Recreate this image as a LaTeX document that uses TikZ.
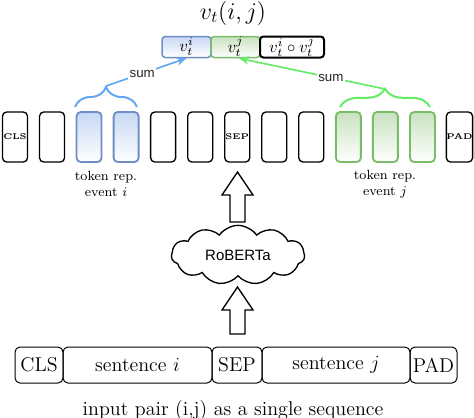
\documentclass[tikz,border=0pt]{standalone}
\usepackage{amsmath,amssymb}
\usepackage{fontspec}
\setsansfont{Liberation Sans}
\usetikzlibrary{shapes.symbols,decorations.pathreplacing,arrows.meta}

\definecolor{repblue}{RGB}{112,142,198}
\definecolor{repbluefill}{RGB}{200,216,244}
\definecolor{repgreen}{RGB}{122,188,104}
\definecolor{repgreenfill}{RGB}{200,226,192}
\definecolor{sumblue}{RGB}{98,168,240}
\definecolor{sumgreen}{RGB}{100,236,100}

\tikzset{
  tok/.style={draw, rounded corners=2.5pt, line width=0.8pt, minimum width=15pt, minimum height=30pt, inner sep=0pt, font=\tiny\bfseries},
  tokblue/.style={tok, draw=repblue, top color=repbluefill, bottom color=white, line width=1.1pt},
  tokgreen/.style={tok, draw=repgreen, top color=repgreenfill, bottom color=white, line width=1.1pt},
  seq/.style={draw, rounded corners=3pt, line width=0.6pt, minimum height=21.6pt, inner sep=0pt, font=\large},
  vec/.style={draw, rounded corners=2pt, minimum height=12.6pt, inner sep=0pt, line width=0.9pt},
  sumbrace/.style={decorate, decoration={brace, amplitude=#1}, line width=1.2pt},
  sumarrow/.style={-{Stealth[length=6pt,width=5pt]}, line width=1pt},
  sumlabel/.style={font=\sffamily\footnotesize, text=black!85, fill=white, inner sep=1pt},
  bigarrow/.style={line width=0.8pt},
}

\begin{document}
\begin{tikzpicture}[x=0.6pt, y=-0.6pt]
\useasboundingbox (0,0) rectangle (474,417);

% output vector
\draw node (title) at (233,13) {\Large $v_t(i,j)$};
\draw node[vec, draw=repblue, top color=repbluefill, bottom color=white, minimum width=29.4pt] (vi) at (186.5,47) {$v_t^i$};
\draw node[vec, draw=repgreen, top color=repgreenfill, bottom color=white, minimum width=29.4pt] (vj) at (235.5,47) {$v_t^j$};
\draw node[vec, line width=1.2pt, minimum width=38.4pt] (vij) at (292,47) {$v_t^i \circ v_t^j$};

% token representations
\foreach \k/\lab/\sty in {0/CLS/tok, 1//tok, 2//tokblue, 3//tokblue, 4//tok, 5//tok, 6/SEP/tok, 7//tok, 8//tok, 9//tokgreen, 10//tokgreen, 11//tokgreen, 12/PAD/tok}
	\node[\sty] (t\k) at (15+37.04*\k,137) {\lab};

\draw node[align=center, font=\footnotesize] (repi) at (106,184) {token\ rep.\\event\ $i$};
\draw node[align=center, font=\footnotesize] (repj) at (385,184) {token\ rep.\\event\ $j$};

% braces and sums
\draw[sumbrace=12pt, sumblue] (75,107) -- (137,107);
\draw[sumbrace=11pt, sumgreen] (340,107) -- (430,107);
\coordinate (bi) at (106,86);
\coordinate (bj) at (385,89);

\draw[sumarrow, sumblue] (bi) -- node[sumlabel, pos=0.45] {sum} (vi.south);
\draw[sumarrow, sumgreen] (bj) -- node[sumlabel, pos=0.37] {sum} ([xshift=2pt]vj.south);

% encoder
\draw node[cloud, draw, cloud puffs=11, cloud puff arc=110, aspect=2.4, minimum width=80pt, minimum height=32pt, line width=0.8pt, font=\sffamily\small] (roberta) at (238,255) {RoBERTa};

\foreach \tip/\foot in {172/222, 287/334}
	\draw[bigarrow] (230,\foot) -- (230,\tip+23) -- (222,\tip+23) -- (237.5,\tip) -- (253,\tip+23) -- (245,\tip+23) -- (245,\foot) -- cycle;

% input sequence
\draw node[seq, minimum width=28.8pt] (cls) at (39,365) {CLS};
\draw node[seq, minimum width=89.4pt] (senti) at (137.5,365) {sentence $i$};
\draw node[seq, minimum width=30pt] (sep) at (237,365) {SEP};
\draw node[seq, minimum width=88.8pt] (sentj) at (336,365) {sentence $j$};
\draw node[seq, minimum width=28.2pt] (pad) at (433.5,365) {PAD};

\draw node[anchor=base, font=\large] (caption) at (233,415.5) {input pair (i,j) as a single sequence};

\end{tikzpicture}
\end{document}
